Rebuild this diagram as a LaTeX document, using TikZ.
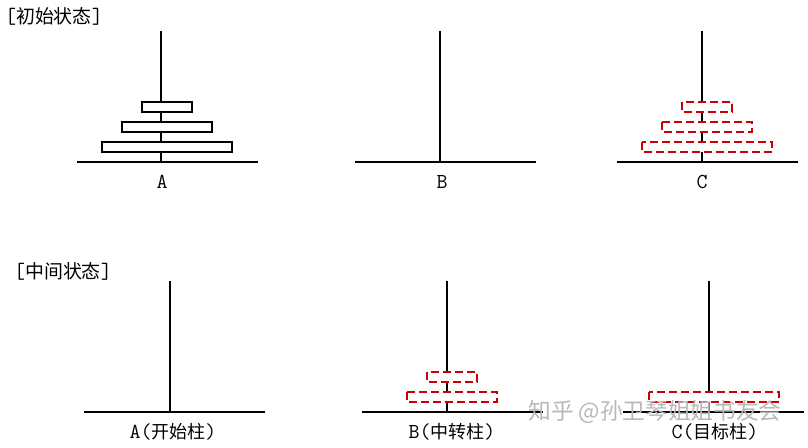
\documentclass[tikz,border=0pt]{standalone}
\usepackage{fontspec}
\newfontfamily\cjk{Noto Sans CJK SC}
\newcommand\cj[1]{{\cjk\fontsize{13.5}{14}\selectfont #1}}
\newcommand\cjt[1]{{\cjk\fontsize{14.2}{15}\selectfont #1}}
\begin{document}
\begin{tikzpicture}[x=0.75pt,y=-0.75pt,
  peg/.style={line width=1.4pt},
  disk/.style={draw=black,line width=1pt,fill=white},
  rdisk/.style={draw=red!80!black,line width=1pt,dash pattern=on 6pt off 3pt,fill=white},
  lbl/.style={font=\ttfamily\fontsize{16}{16}\selectfont,inner sep=0pt},
  ttl/.style={font=\ttfamily\fontsize{16.5}{17}\selectfont,inner sep=0pt},
  wm/.style={font=\cjk\fontsize{17}{18}\selectfont,text=black!28,inner sep=0pt}]
\useasboundingbox (0,0) rectangle (808,448);
\fill[white] (0,0) rectangle (808,448);
% titles
\node[ttl] (t1) at (54,16) {[\cjt{初始状态}]};
\node[ttl] (t2) at (63,271) {[\cjt{中间状态}]};
% top row stands
\coordinate (tAl) at (77,162); \coordinate (tAr) at (258,162);
\coordinate (tAt) at (161,31); \coordinate (tAb) at (161,162);
\coordinate (tBl) at (355,162); \coordinate (tBr) at (536,162);
\coordinate (tBt) at (440,31); \coordinate (tBb) at (440,162);
\coordinate (tCl) at (617,162); \coordinate (tCr) at (798,162);
\coordinate (tCt) at (702,31); \coordinate (tCb) at (702,162);
\foreach \s in {tA,tB,tC}{
  \draw[peg] (\s l) -- (\s r);
  \draw[peg] (\s t) -- (\s b);
}
% bottom row stands
\coordinate (bAl) at (84,412); \coordinate (bAr) at (265,412);
\coordinate (bAt) at (170,281); \coordinate (bAb) at (170,412);
\coordinate (bBl) at (362,412); \coordinate (bBr) at (543,412);
\coordinate (bBt) at (447,281); \coordinate (bBb) at (447,412);
\coordinate (bCl) at (623,412); \coordinate (bCr) at (804,412);
\coordinate (bCt) at (709,281); \coordinate (bCb) at (709,412);
\foreach \s in {bA,bB,bC}{
  \draw[peg] (\s l) -- (\s r);
  \draw[peg] (\s t) -- (\s b);
}
% disks, initial state on A
\draw[disk] (142,102) rectangle (192,112);
\draw[disk] (122,122) rectangle (212,132);
\draw[disk] (102,142) rectangle (232,152);
% dashed target on C
\draw[rdisk] (682,102) rectangle (732,112);
\draw[rdisk] (662,122) rectangle (752,132);
\draw[rdisk] (642,142) rectangle (772,152);
% intermediate state
\draw[rdisk] (427,372) rectangle (477,382);
\draw[rdisk] (407,392) rectangle (497,402);
\draw[rdisk] (649,392) rectangle (779,402);
% labels
\node[lbl] (lA) at (162,182) {A};
\node[lbl] (lB) at (442,182) {B};
\node[lbl] (lC) at (702,182) {C};
\node[lbl] (mA) at (173,432) {A(\cj{开始柱})};
\node[lbl] (mB) at (452,432) {B(\cj{中转柱})};
\node[lbl] (mC) at (715,432) {C(\cj{目标柱})};
% watermark
\node[wm] (wm) at (655,412) {知乎 @孙卫琴姐姐书友会};
\end{tikzpicture}
\end{document}
